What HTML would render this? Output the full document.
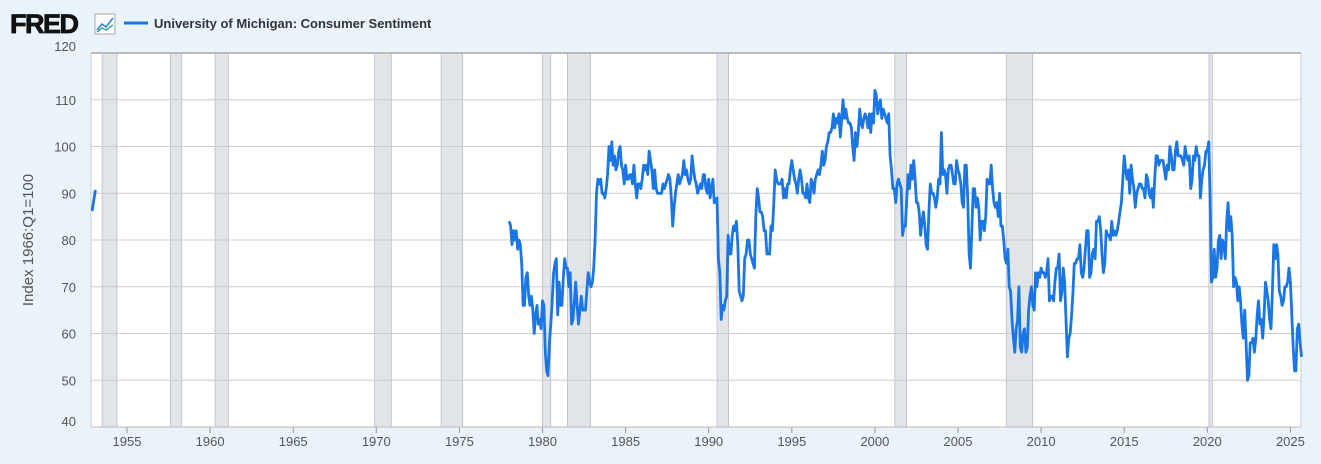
<!DOCTYPE html>
<html><head><meta charset="utf-8"><style>
body{margin:0;width:1321px;height:459px;background:#eaf2fa;font-family:"Liberation Sans",sans-serif;overflow:hidden}
</style></head><body>
<svg width="1321" height="459">
<text x="10" y="33" font-size="27" font-weight="bold" fill="#111" stroke="#111" stroke-width="0.8" letter-spacing="-1.5">FRED</text>
<g><rect x="95" y="14" width="20" height="20" fill="#fff" stroke="#aaa"/><polyline points="97,30 102,24 106,27 113,18" fill="none" stroke="#2b7bd8" stroke-width="1.5"/><polyline points="97,32 102,28 106,30 113,25" fill="none" stroke="#3aa88a" stroke-width="1.5"/></g>
<line x1="124" y1="23" x2="148" y2="23" stroke="#1b76e4" stroke-width="3"/>
<text x="154" y="28" font-size="13" font-weight="bold" fill="#333">University of Michigan: Consumer Sentiment</text>
<rect x="91" y="53" width="1210" height="374" fill="#fff"/>
<g id="rec"></g><g id="grid"></g><g id="xt"></g>
<line x1="91" y1="53" x2="1301" y2="53" stroke="#bbb" stroke-width="2"/>
<text transform="translate(33,240) rotate(-90)" text-anchor="middle" font-size="15" fill="#555">Index 1966:Q1=100</text>
<path id="line" fill="none" stroke="#1b76e4" stroke-width="2.8" stroke-linejoin="round"/>
<path id="line0" fill="none" stroke="#1b76e4" stroke-width="2.8" stroke-linejoin="round"/>
</svg>
<script>
const yTicks=[40,50,60,70,80,90,100,110,120];
const xTicks=[1955,1960,1965,1970,1975,1980,1985,1990,1995,2000,2005,2010,2015,2020,2025];
const recessions=[[1953.5,1954.4],[1957.6,1958.3],[1960.3,1961.1],[1969.9,1970.9],[1973.9,1975.2],[1980.0,1980.5],[1981.5,1982.9],[1990.5,1991.2],[2001.2,2001.9],[2007.9,2009.5],[2020.1,2020.3]];
const earlyYears=[1952.9,1953.1];
const earlyValues=[86.2,90.7];
const startYear=1978;
const monthly=[
84,83,79,82,80,82,78,80,79,75,66,66,
72,73,68,66,68,65,60,64,66,62,63,61,
67,66,56,52,51,58,62,67,73,75,76,64,
71,66,66,72,76,74,74,70,73,62,63,67,
71,66,62,65,68,65,65,65,69,73,71,70,
71,74,80,90,93,92,93,90,90,89,91,94,
100,97,101,96,98,95,96,99,100,96,95,92,
96,93,93,94,94,92,96,92,89,92,92,91,
93,96,95,96,94,99,97,95,91,95,91,90,
90,90,90,92,91,92,93,94,93,89,83,87,
90,92,94,92,93,94,97,94,95,93,92,93,
98,95,93,92,90,91,92,91,94,94,91,90,
93,89,91,93,88,88,89,76,73,63,66,65,
67,68,81,77,77,81,83,82,84,79,69,68,
67,68,76,77,80,80,77,76,75,74,85,91,
89,86,86,85,82,82,77,77,77,83,82,88,
95,93,92,92,92,93,89,91,89,92,92,95,
97,95,93,92,90,93,95,93,90,90,89,92,
89,88,93,92,90,93,94,95,94,96,99,96,
97,100,101,103,103,104,107,104,106,105,107,102,
106,110,106,108,106,105,105,104,100,97,103,100,
103,108,105,104,106,107,106,104,107,103,107,105,
112,111,107,109,110,106,108,107,106,105,107,98,
95,91,91,88,92,93,92,91,81,83,83,89,
94,91,96,93,97,93,88,88,86,81,84,86,
83,79,78,86,92,90,90,89,87,89,93,92,
103,94,95,94,90,95,96,96,94,92,92,97,
95,94,92,88,87,96,96,89,77,74,82,91,
91,87,89,87,80,84,84,82,85,93,92,92,
96,91,88,87,88,85,90,83,83,80,76,75,
78,70,69,63,59,56,61,63,70,57,56,60,
61,56,57,65,68,70,66,65,73,70,73,72,
74,73,73,72,73,76,67,68,68,67,71,74,
74,77,67,69,74,71,63,55,59,60,64,69,
75,75,76,76,79,73,72,74,78,82,82,72,
73,77,78,76,84,84,85,82,77,73,75,82,
81,81,80,84,81,82,81,82,84,86,88,93,
98,95,93,95,90,96,93,91,87,90,91,92,
92,91,91,89,94,93,90,89,91,87,93,98,
98,96,97,97,97,95,93,96,95,100,98,95,
95,99,101,98,98,98,97,96,100,98,97,98,
91,93,98,97,100,98,98,89,93,95,96,99,
99,101,89,71,72,78,72,74,80,81,76,80,
79,76,84,88,82,85,81,70,72,71,67,70,
67,62,59,65,58,50,51,58,58,59,56,59,
64,67,62,63,59,64,71,69,67,63,61,69,
79,76,79,77,69,68,66,67,70,70,71,74,
71,64,57,52,52,61,62,58,55];
const L=91,R=1301,T=53,B=427;
const x=yr=>127+(yr-1955)*16.62;
const y=v=>B-(v-40)*(B-T)/80;
const NS='http://www.w3.org/2000/svg';
function mk(tag,attrs,parentId,text){
  const e=document.createElementNS(NS,tag);
  for(const k in attrs)e.setAttribute(k,attrs[k]);
  if(text!==undefined)e.textContent=text;
  document.getElementById(parentId).appendChild(e);
  return e;
}
recessions.forEach(r=>{
  const e=mk('rect',{x:x(r[0]),y:T,width:x(r[1])-x(r[0]),height:B-T,fill:'#e1e5ea',stroke:'#aab',"stroke-width":0.6},'rec');
  
  
});
yTicks.forEach(v=>{
  if(v>40&&v<120){
    const l=mk('line',{x1:L,x2:R,y1:y(v),y2:y(v),stroke:'#ccc'},'grid');
    
    
  }
  const t=mk('text',{x:76,y:y(v)+(v===120?-2:(v===40?-1:5)),"text-anchor":"end","font-size":13,fill:'#555'},'grid',String(v));
  
  
});
mk('line',{x1:L,x2:L,y1:T,y2:B,stroke:'#ccc'},'grid');
mk('line',{x1:R,x2:R,y1:T,y2:B,stroke:'#ccc'},'grid');
xTicks.forEach(v=>{
  const l=mk('line',{x1:x(v),x2:x(v),y1:B,y2:B+6,stroke:'#999'},'xt');
  
  
  const t=mk('text',{x:x(v),y:446,"text-anchor":"middle","font-size":13,fill:'#555'},'xt',String(v));
  
  
});
mk('line',{x1:L,x2:R,y1:B,y2:B,stroke:'#bbb'},'xt');
document.getElementById('line').setAttribute('d',monthly.map((v,i)=>(i?'L':'M')+x(startYear+i/12).toFixed(1)+','+y(v).toFixed(1)).join(''));
document.getElementById('line0').setAttribute('d',earlyValues.map((v,i)=>(i?'L':'M')+x(earlyYears[i]).toFixed(1)+','+y(v).toFixed(1)).join(''));
</script>
</body></html>
